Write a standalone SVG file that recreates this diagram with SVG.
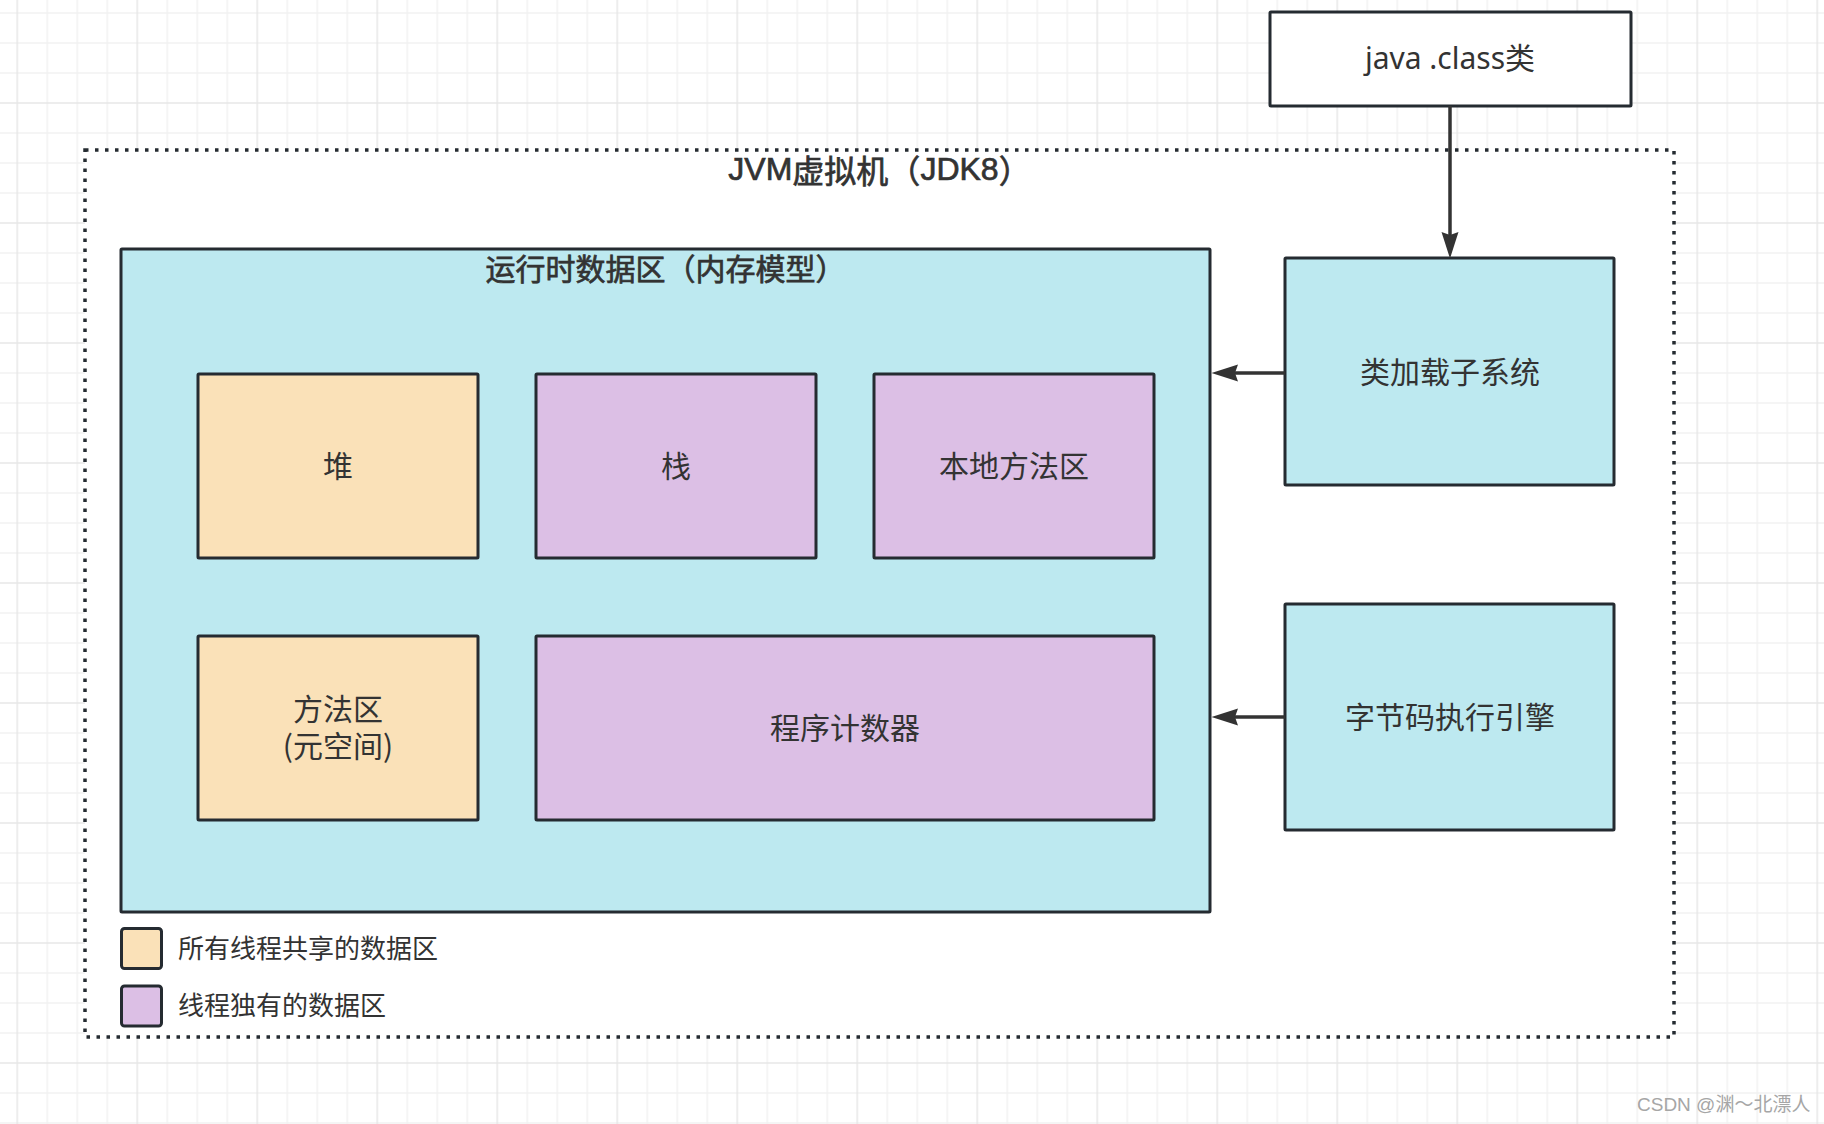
<svg xmlns="http://www.w3.org/2000/svg" width="1824" height="1124" viewBox="0 0 1824 1124">
  <style>
    .box { stroke: #252b31; stroke-width: 3; }
    .cyan { fill: #bde9f0; }
    .peach { fill: #fae1b8; }
    .purple { fill: #dcbfe5; }
    .white { fill: #ffffff; }
    .lbl { font-family: "Noto Sans CJK SC", "Noto Sans", sans-serif; font-size: 30px; fill: #333333; text-anchor: middle; dominant-baseline: central; }
    .big { font-size: 32px; }
    .latin { font-family: "Noto Sans", "Noto Sans CJK SC", sans-serif; }
    .arial { font-family: "Liberation Sans", "Noto Sans CJK SC", sans-serif; }
    .title { stroke: #333333; stroke-width: 0.7px; }
    .legend { font-family: "Noto Sans CJK SC", "Noto Sans", sans-serif; font-size: 26px; fill: #333333; dominant-baseline: central; }
    .conn { fill: none; stroke: #333333; stroke-width: 3.5; }
    .minor { stroke: #f2f2f2; stroke-width: 1.5; }
    .major { stroke: #e7e7e7; stroke-width: 1.5; }
  </style>
  <defs>
    <pattern id="grid" patternUnits="userSpaceOnUse" x="2.3" y="-2" width="120" height="120">
      <line class="minor" x1="45" y1="0" x2="45" y2="120"/>
      <line class="minor" x1="75" y1="0" x2="75" y2="120"/>
      <line class="minor" x1="105" y1="0" x2="105" y2="120"/>
      <line class="minor" x1="0" y1="15" x2="120" y2="15"/>
      <line class="minor" x1="0" y1="45" x2="120" y2="45"/>
      <line class="minor" x1="0" y1="75" x2="120" y2="75"/>
      <line class="major" x1="15" y1="0" x2="15" y2="120"/>
      <line class="major" x1="0" y1="105" x2="120" y2="105"/>
    </pattern>
    <marker id="arrow" markerUnits="userSpaceOnUse" markerWidth="28" markerHeight="18" viewBox="0 0 28 18" refX="4" refY="9" orient="auto">
      <path d="M0,0.5 L26.5,9 L0,17.5 L3,9 Z" fill="#333333"/>
    </marker>
  </defs>

  <rect x="0" y="0" width="1824" height="1124" fill="#ffffff"/>
  <rect x="0" y="0" width="1824" height="1124" fill="url(#grid)"/>

  <g id="jvm">
    <rect x="85" y="150" width="1589" height="887" fill="#ffffff" stroke="#252b31" stroke-width="3.5" stroke-dasharray="3.5 6.5"/>
    <text class="lbl title big" x="879.5" y="169"><tspan class="arial">JVM</tspan>虚拟机（<tspan class="arial">JDK8</tspan>）</text>
  </g>

  <g id="runtime-data-area">
    <rect class="box cyan" x="121" y="249" width="1089" height="663" rx="1"/>
    <text class="lbl title" x="665.5" y="267">运行时数据区（内存模型）</text>
  </g>

  <g id="heap">
    <rect class="box peach" x="198" y="374" width="280" height="184" rx="1"/>
    <text class="lbl" x="338" y="463.5">堆</text>
  </g>
  <g id="stack">
    <rect class="box purple" x="536" y="374" width="280" height="184" rx="1"/>
    <text class="lbl" x="676" y="463.5">栈</text>
  </g>
  <g id="native-method-area">
    <rect class="box purple" x="874" y="374" width="280" height="184" rx="1"/>
    <text class="lbl" x="1014" y="463.5">本地方法区</text>
  </g>
  <g id="method-area">
    <rect class="box peach" x="198" y="636" width="280" height="184" rx="1"/>
    <text class="lbl" x="338" y="707"><tspan x="338" y="707">方法区</tspan><tspan x="338" y="744">(元空间)</tspan></text>
  </g>
  <g id="program-counter">
    <rect class="box purple" x="536" y="636" width="618" height="184" rx="1"/>
    <text class="lbl" x="845" y="725.5">程序计数器</text>
  </g>

  <g id="java-class">
    <rect class="box white" x="1270" y="12" width="361" height="94" rx="1"/>
    <text class="lbl latin" x="1450" y="57">java .class类</text>
  </g>
  <g id="class-loader">
    <rect class="box cyan" x="1285" y="258" width="329" height="227" rx="1"/>
    <text class="lbl" x="1450" y="370">类加载子系统</text>
  </g>
  <g id="execution-engine">
    <rect class="box cyan" x="1285" y="604" width="329" height="226" rx="1"/>
    <text class="lbl" x="1450" y="714.5">字节码执行引擎</text>
  </g>

  <g id="legend-shared">
    <rect class="box peach" x="121.5" y="928.5" width="40" height="40" rx="3"/>
    <text class="legend" x="178" y="946">所有线程共享的数据区</text>
  </g>
  <g id="legend-private">
    <rect class="box purple" x="121.5" y="986" width="40" height="40" rx="3"/>
    <text class="legend" x="178" y="1003">线程独有的数据区</text>
  </g>

  <g id="connectors">
    <path class="conn" d="M1450,106 L1450,236" marker-end="url(#arrow)"/>
    <path class="conn" d="M1285,373 L1234,373" marker-end="url(#arrow)"/>
    <path class="conn" d="M1285,717 L1234,717" marker-end="url(#arrow)"/>
  </g>

  <text x="1637" y="1104" font-family="Liberation Sans, Noto Sans CJK SC, sans-serif" font-size="19" fill="#a6a6a6" dominant-baseline="central">CSDN @渊～北漂人</text>
</svg>
